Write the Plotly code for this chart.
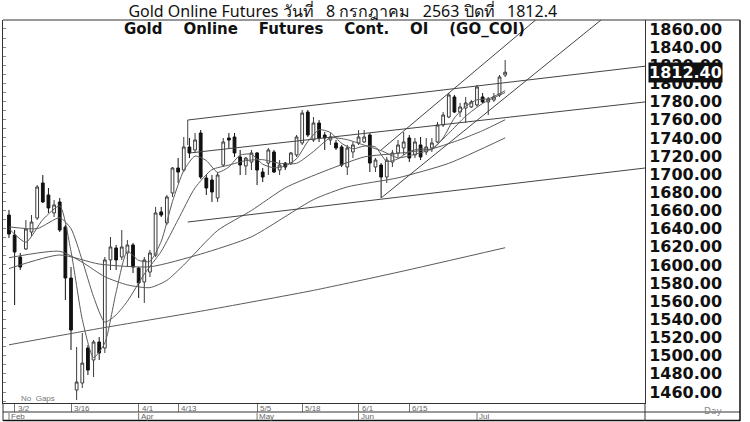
import plotly.graph_objects as go
import pandas as pd

# ---------------- data ----------------
holidays = ["2020-04-06", "2020-05-01", "2020-05-04", "2020-05-06", "2020-06-03"]
dates = [d.strftime("%Y-%m-%d") for d in pd.bdate_range("2020-02-28", "2020-07-08")
         if d.strftime("%Y-%m-%d") not in holidays]

opens = [1655.0, 1633.0, 1608.8, 1617.6, 1636.3, 1651.7, 1690.3, 1677.1, 1657.3, 1669.4,
         1641.8, 1585.6, 1462.2, 1469.9, 1508.5, 1495.3, 1515.1, 1508.5, 1605.5, 1618.7,
         1608.8, 1613.2, 1622.0, 1596.6, 1581.2, 1592.2, 1610.9, 1658.4, 1646.2, 1679.3,
         1706.8, 1704.6, 1730.0, 1726.7, 1745.4, 1695.8, 1693.6, 1673.8, 1710.1, 1739.9,
         1741.0, 1719.0, 1709.0, 1713.4, 1723.4, 1702.4, 1712.3, 1724.5, 1704.6, 1712.3,
         1712.3, 1721.2, 1734.4, 1768.5, 1737.7, 1756.4, 1743.2, 1737.7, 1734.4, 1730.0,
         1707.9, 1724.5, 1734.4, 1735.5, 1743.2, 1707.9, 1710.1, 1696.9, 1713.4, 1723.4,
         1728.9, 1739.9, 1721.2, 1732.2, 1724.5, 1728.9, 1735.5, 1754.2, 1763.0, 1785.1,
         1768.5, 1772.9, 1774.1, 1776.3, 1785.1, 1779.6, 1781.8, 1787.3, 1809.3]
highs = [1660.6, 1638.5, 1613.2, 1649.5, 1655.0, 1688.1, 1699.1, 1684.8, 1671.6, 1673.8,
         1644.0, 1597.7, 1509.6, 1525.0, 1511.8, 1517.3, 1520.6, 1608.8, 1630.8, 1622.0,
         1638.5, 1627.5, 1624.2, 1597.7, 1608.8, 1616.5, 1663.9, 1663.9, 1677.1, 1707.9,
         1717.8, 1741.0, 1739.9, 1745.4, 1748.7, 1699.1, 1699.1, 1702.4, 1739.9, 1745.4,
         1745.4, 1726.7, 1719.0, 1726.7, 1724.5, 1706.8, 1728.9, 1726.7, 1715.6, 1713.4,
         1724.5, 1743.2, 1770.7, 1770.7, 1763.0, 1759.7, 1746.5, 1745.4, 1737.7, 1732.2,
         1732.2, 1735.5, 1748.7, 1748.7, 1745.4, 1717.8, 1712.3, 1719.0, 1726.7, 1737.7,
         1746.5, 1743.2, 1739.9, 1741.0, 1739.9, 1739.9, 1757.5, 1768.5, 1789.5, 1787.3,
         1778.5, 1785.1, 1781.8, 1798.3, 1789.5, 1785.1, 1789.5, 1809.3, 1825.8]
lows = [1629.7, 1555.9, 1594.4, 1616.5, 1632.0, 1649.5, 1668.3, 1657.3, 1652.8, 1636.3,
        1561.4, 1506.3, 1451.2, 1464.4, 1478.7, 1476.5, 1495.3, 1503.0, 1594.4, 1594.4,
        1605.5, 1597.7, 1591.1, 1563.6, 1558.1, 1586.7, 1608.8, 1652.8, 1644.0, 1674.9,
        1690.3, 1702.4, 1717.8, 1723.4, 1694.7, 1677.1, 1669.4, 1669.4, 1707.9, 1728.9,
        1719.0, 1699.1, 1699.1, 1704.6, 1688.1, 1691.4, 1699.1, 1701.3, 1699.1, 1704.6,
        1710.1, 1719.0, 1732.2, 1741.0, 1735.5, 1735.5, 1726.7, 1732.2, 1726.7, 1707.9,
        1699.1, 1717.8, 1732.2, 1734.4, 1702.4, 1702.4, 1673.8, 1690.3, 1707.9, 1719.0,
        1721.2, 1713.4, 1717.8, 1715.6, 1721.2, 1724.5, 1734.4, 1752.0, 1761.9, 1767.4,
        1763.0, 1756.4, 1772.9, 1774.1, 1778.5, 1765.2, 1779.6, 1785.1, 1807.1]
closes = [1634.1, 1614.3, 1597.7, 1639.6, 1647.3, 1685.9, 1669.4, 1662.8, 1666.1, 1638.5,
          1585.6, 1528.3, 1471.0, 1491.9, 1484.2, 1515.1, 1503.0, 1605.5, 1619.8, 1605.5,
          1619.8, 1622.0, 1597.7, 1580.1, 1605.5, 1613.2, 1657.3, 1655.0, 1674.9, 1706.8,
          1702.4, 1730.0, 1723.4, 1737.7, 1696.9, 1684.8, 1680.4, 1699.1, 1735.5, 1737.7,
          1723.4, 1710.1, 1717.8, 1723.4, 1704.6, 1696.9, 1726.7, 1702.4, 1710.1, 1707.9,
          1723.4, 1741.0, 1767.4, 1743.2, 1756.4, 1739.9, 1739.9, 1741.0, 1728.9, 1710.1,
          1728.9, 1732.2, 1741.0, 1741.0, 1712.3, 1715.6, 1696.9, 1715.6, 1723.4, 1732.2,
          1735.5, 1717.8, 1735.5, 1719.0, 1730.0, 1734.4, 1754.2, 1765.2, 1787.3, 1768.5,
          1774.1, 1778.5, 1779.6, 1796.1, 1779.6, 1782.9, 1785.1, 1807.1, 1812.4]

# moving-average lines, read at sample candles (candle index, price)
ma_fast_idx = [0, 3, 6, 9, 11, 13, 15, 17, 19, 21, 23, 25, 27, 29, 31, 33, 35, 37, 39, 41, 43,
               45, 47, 49, 51, 53, 55, 57, 59, 61, 63, 65, 67, 69, 71, 73, 75, 77, 79, 81, 83, 85, 88]
ma_fast = [1640, 1625, 1650, 1665, 1615, 1540, 1498, 1514, 1570, 1615, 1605, 1604, 1626, 1670,
           1704, 1720, 1715, 1702, 1708, 1721, 1722, 1711, 1707, 1709, 1717, 1736, 1749, 1746,
           1734, 1728, 1731, 1730, 1714, 1717, 1725, 1728, 1727, 1740, 1762, 1775, 1782, 1783, 1792]
ma_10_idx = [0, 5, 9, 11, 13, 15, 17, 19, 21, 24, 27, 30, 33, 36, 39, 42, 45, 48, 51, 54, 57,
             60, 63, 66, 69, 72, 75, 78, 81, 84, 88]
ma_10 = [1642, 1640, 1652, 1640, 1605, 1565, 1537, 1545, 1560, 1590, 1615, 1650, 1685, 1705,
         1710, 1715, 1716, 1712, 1712, 1725, 1740, 1738, 1732, 1726, 1718, 1722, 1728, 1745,
         1764, 1778, 1790]
ma_25_idx = [0, 9, 13, 17, 21, 25, 28, 31, 37, 43, 49, 55, 63, 69, 75, 80, 84, 88]
ma_25 = [1608, 1615, 1603, 1587, 1578, 1575, 1583, 1600, 1638, 1660, 1685, 1701, 1719, 1723,
         1728, 1738, 1748, 1760]
ma_75_idx = [0, 9, 16, 25, 34, 43, 54, 60, 69, 78, 88]
ma_75 = [1596, 1611, 1601, 1598, 1612, 1631, 1672, 1686, 1696, 1712, 1740]
ma_200_idx = [0, 16, 34, 54, 69, 88]
ma_200 = [1512, 1530, 1549, 1572, 1592, 1619]

# drawn trend lines: (start index, start price, end index, end price)
trend_lines = [
    (31.7, 1759.7, 112.8, 1819.0),
    (31.7, 1647.3, 112.8, 1706.8),
    (32.1, 1723.4, 112.8, 1779.6),
    (31.7, 1759.7, 31.7, 1732.0),
    (66.0, 1673.8, 105.0, 1869.9),
    (66.0, 1726.7, 93.4, 1869.9),
]

tick_dates = ["2020-03-02", "2020-03-16", "2020-04-01", "2020-04-13", "2020-05-05",
              "2020-05-18", "2020-06-01", "2020-06-15"]
tick_text = ["3/2", "3/16", "4/1", "4/13", "5/5", "5/18", "6/1", "6/15"]
month_dates = ["2020-02-28", "2020-04-01", "2020-05-05", "2020-06-01", "2020-07-01"]
month_text = ["Feb", "Apr", "May", "Jun", "Jul"]

# ---------------- figure ----------------
x = list(range(len(dates)))
fig = go.Figure()

line_col = "#5a5a5a"
for xi, yi in [(ma_200_idx, ma_200), (ma_75_idx, ma_75), (ma_25_idx, ma_25),
               (ma_10_idx, ma_10), (ma_fast_idx, ma_fast)]:
    fig.add_trace(go.Scatter(x=xi, y=yi, mode="lines",
                             line=dict(color=line_col, width=1, shape="spline", smoothing=0.6),
                             hoverinfo="skip", showlegend=False))

for (x0, y0, x1, y1) in trend_lines:
    fig.add_trace(go.Scatter(x=[x0, x1], y=[y0, y1], mode="lines",
                             line=dict(color="#444444", width=1), hoverinfo="skip", showlegend=False))

fig.add_trace(go.Candlestick(
    x=x, open=opens, high=highs, low=lows, close=closes, text=dates,
    increasing=dict(line=dict(color="#3a3a3a", width=1), fillcolor="white"),
    decreasing=dict(line=dict(color="#111111", width=1), fillcolor="#111111"),
    whiskerwidth=0, showlegend=False))

# invisible trace for the left tick axis
fig.add_trace(go.Scatter(x=[0], y=[1600], yaxis="y2", mode="markers", marker=dict(opacity=0),
                         hoverinfo="skip", showlegend=False))

W, H = 750, 422
ml, mr, mt, mb = 3, 105, 20, 19
pw = W - ml - mr
ph = H - mt - mb


def px_x(px):
    return (px - ml) / pw


def px_y(py):
    return (H - mb - py) / ph


xr = [-1.06, 112.8]
yr = [1447.9, 1869.9]

tick_idx = [dates.index(d) for d in tick_dates]
month_idx = [dates.index(d) for d in month_dates]

annotations = []
for i, t in zip(tick_idx, tick_text):
    annotations.append(dict(x=i, xref="x", y=px_y(408), yref="paper", text=t, showarrow=False,
                            xanchor="left", xshift=1, yanchor="middle",
                            font=dict(family="Liberation Sans", size=8, color="#666666")))
for i, t in zip(month_idx, month_text):
    annotations.append(dict(x=i, xref="x", y=px_y(416.5), yref="paper", text=t, showarrow=False,
                            xanchor="left", xshift=0, yanchor="middle",
                            font=dict(family="Liberation Sans", size=8, color="#666666")))
sp = "\u00a0" * 4
annotations += [
    dict(x=px_x(19), xref="paper", y=px_y(398), yref="paper", text="No  Gaps", showarrow=False,
         xanchor="left", yanchor="middle", font=dict(family="Liberation Sans", size=8, color="#777777")),
    dict(x=px_x(724), xref="paper", y=px_y(411), yref="paper", text="Day", showarrow=False,
         xanchor="right", yanchor="middle", font=dict(family="DejaVu Sans", size=9, color="#888888")),
    dict(x=px_x(325), xref="paper", y=px_y(29), yref="paper",
         text=sp.join(["Gold", "Online", "Futures", "Cont.", "OI", "(GO_COI)"]),
         showarrow=False, xanchor="center", yanchor="middle",
         font=dict(family="DejaVu Sans", size=15, color="#111111", weight="bold")),
    dict(x=1, xref="paper", y=closes[-1], yref="y", text="%.2f" % closes[-1], showarrow=False,
         xanchor="left", xshift=3, yanchor="middle", bgcolor="#111111", borderpad=0,
         font=dict(family="DejaVu Sans", size=16, color="white", weight="bold")),
]

xr_panel = px_x(740)
shapes = [
    dict(type="line", xref="paper", yref="paper", x0=0, x1=xr_panel, y0=px_y(412), y1=px_y(412),
         line=dict(color="#333333", width=1)),
    dict(type="line", xref="paper", yref="paper", x0=0, x1=xr_panel, y0=px_y(420.5), y1=px_y(420.5),
         line=dict(color="#111111", width=1.5)),
    dict(type="line", xref="paper", yref="paper", x0=0, x1=0, y0=px_y(421), y1=0,
         line=dict(color="#333333", width=1)),
    dict(type="line", xref="paper", yref="paper", x0=xr_panel, x1=xr_panel, y0=px_y(421), y1=1,
         line=dict(color="#111111", width=1.5)),
    dict(type="line", xref="paper", yref="paper", x0=0, x1=xr_panel, y0=1, y1=1,
         line=dict(color="#333333", width=1)),
    dict(type="line", xref="paper", yref="paper", x0=1, x1=1, y0=px_y(421), y1=0,
         line=dict(color="#333333", width=1)),
]
for i in month_idx:
    shapes.append(dict(type="line", xref="x", yref="paper", x0=i, x1=i, y0=px_y(413), y1=px_y(420),
                       line=dict(color="#777777", width=1)))

fig.update_layout(
    width=W, height=H, margin=dict(l=ml, r=mr, t=mt, b=mb),
    paper_bgcolor="white", plot_bgcolor="white",
    title=dict(text="Gold Online Futures วันที่   8 กรกฎาคม   2563 ปิดที่   1812.4",
               x=0.457, xanchor="center", y=1 - 11.5 / H, yanchor="middle",
               font=dict(family="Noto Sans", size=16, color="#111111")),
    xaxis=dict(range=xr, showgrid=False, zeroline=False, rangeslider=dict(visible=False),
               tickmode="array", tickvals=tick_idx, ticktext=[""] * len(tick_idx),
               ticks="outside", ticklen=8, tickcolor="#777777",
               showline=True, linecolor="#333333", mirror=False, fixedrange=True),
    yaxis=dict(range=yr, side="right", showgrid=False, zeroline=False, dtick=20, tick0=1460,
               tickformat=".2f", ticks="", showline=True, linecolor="#333333",
               tickfont=dict(family="DejaVu Sans", size=16, color="#111111", weight="bold")),
    yaxis2=dict(range=yr, overlaying="y", side="left", showgrid=False, zeroline=False,
                showticklabels=False, ticks="inside", ticklen=3, dtick=10, tick0=1460,
                tickcolor="#888888", showline=True, linecolor="#333333"),
    annotations=annotations, shapes=shapes,
)

fig.write_html("out.html", config={"displayModeBar": False},
               post_script="document.body.style.margin='0px';document.body.style.overflow='hidden';")
